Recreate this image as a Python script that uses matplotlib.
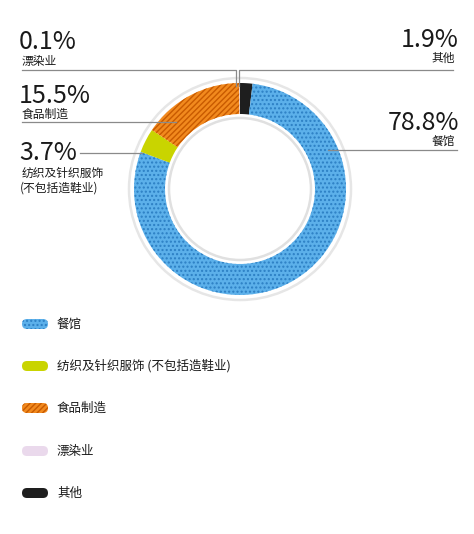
import matplotlib
matplotlib.use("Agg")
import matplotlib.pyplot as plt
from matplotlib.patches import Circle, FancyBboxPatch

plt.rcParams['font.family'] = ['Noto Sans CJK SC', 'DejaVu Sans']

# data, clockwise from 12 o'clock
labels = ["其他", "餐馆", "纺织及针织服饰 (不包括造鞋业)", "食品制造", "漂染业"]
values = [1.9, 78.8, 3.7, 15.5, 0.1]
colors = ["#1e1e1e", "#5cb0ea", "#c9d400", "#f28a1e", "#ead9ec"]
hatch_colors = ["#1e1e1e", "#2c7fc4", "#c9d400", "#c85a00", "#ead9ec"]
hatches = [None, "....", None, "//////", None]

legend_labels = ["餐馆", "纺织及针织服饰 (不包括造鞋业)", "食品制造", "漂染业", "其他"]
legend_idx = [1, 2, 3, 4, 0]

W, H = 474, 534
fig = plt.figure(figsize=(W / 100, H / 100), dpi=100)
ax = fig.add_axes([0, 0, 1, 1])
ax.set_xlim(0, W)
ax.set_ylim(0, H)
ax.axis("off")

def Y(y):
    return H - y

cx, cy = 240, Y(189)
r_out, r_in = 106, 75

# soft white rim around the ring
ax.add_patch(Circle((cx, cy), r_out + 5, facecolor="white", edgecolor="#e6e6e6", lw=1.8, zorder=1))

wedges, _ = ax.pie(values, colors=colors, startangle=90, counterclock=False,
                   center=(cx, cy), radius=r_out,
                   wedgeprops=dict(width=r_out - r_in, linewidth=0))
for w, hc, h in zip(wedges, hatch_colors, hatches):
    w.set_zorder(2)
    if h:
        w.set_hatch(h)
        w.set_edgecolor(hc)
        w.set_linewidth(0)
ax.add_patch(Circle((cx, cy), r_in - 4, facecolor="white", edgecolor="#e0e0e0", lw=1.8, zorder=3))
ax.set_xlim(0, W)
ax.set_ylim(0, H)
ax.set_aspect("auto")

line_kw = dict(color="#8a8a8a", lw=0.9, zorder=4)
big = dict(fontsize=18, color="#1a1a1a", fontweight="light", zorder=5)
small = dict(fontsize=8.5, color="#1a1a1a", zorder=5)

# 0.1% 漂染业
ax.text(19, Y(42), "0.1%", ha="left", va="center", **big)
ax.text(22, Y(62), "漂染业", ha="left", va="center", **small)
ax.plot([22, 236, 236], [Y(70), Y(70), Y(86)], **line_kw)
# 1.9% 其他
ax.text(459, Y(40), "1.9%", ha="right", va="center", **big)
ax.text(455, Y(58), "其他", ha="right", va="center", **small)
ax.plot([453, 239, 239], [Y(70), Y(70), Y(86)], **line_kw)
# 15.5% 食品制造
ax.text(19, Y(96), "15.5%", ha="left", va="center", **big)
ax.text(22, Y(114), "食品制造", ha="left", va="center", **small)
ax.plot([22, 176], [Y(122), Y(122)], **line_kw)
# 78.8% 餐馆
ax.text(459, Y(123), "78.8%", ha="right", va="center", **big)
ax.text(455, Y(141), "餐馆", ha="right", va="center", **small)
ax.plot([328, 457], [Y(150), Y(150)], **line_kw)
# 3.7% 纺织
ax.text(19, Y(153), "3.7%", ha="left", va="center", **big)
ax.text(22, Y(173), "纺织及针织服饰", ha="left", va="center", **small)
ax.text(20, Y(188), "(不包括造鞋业)", ha="left", va="center", **small)
ax.plot([80, 142], [Y(153), Y(153)], **line_kw)

# legend
leg_y = [324, 366, 408, 451, 493]
for yy, lab, i in zip(leg_y, legend_labels, legend_idx):
    p = FancyBboxPatch((22, Y(yy) - 5), 26, 10, boxstyle="round,pad=0,rounding_size=5",
                       facecolor=colors[i], edgecolor=hatch_colors[i], lw=0, zorder=5)
    if hatches[i]:
        p.set_hatch(hatches[i])
    ax.add_patch(p)
    ax.text(57, Y(yy), lab, ha="left", va="center", fontsize=9, color="#1a1a1a", zorder=5)

fig.savefig("out.png", dpi=100, facecolor="white")
